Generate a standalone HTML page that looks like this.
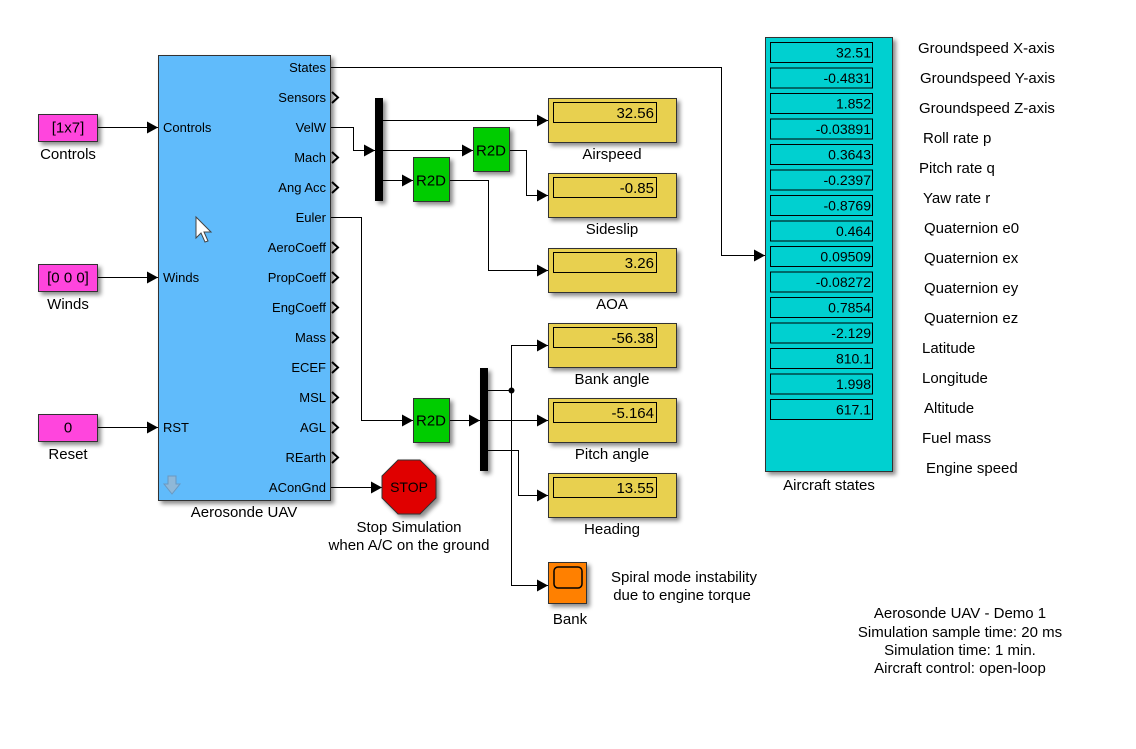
<!DOCTYPE html>
<html><head><meta charset="utf-8"><style>
body{margin:0;background:#fff;}
svg{display:block;font-family:"Liberation Sans",Arial,sans-serif;}
</style></head><body>
<svg width="1136" height="749" viewBox="0 0 1136 749" xmlns="http://www.w3.org/2000/svg">
<defs>
<filter id="sh" x="-10%" y="-10%" width="130%" height="130%"><feDropShadow dx="3" dy="3" stdDeviation="2" flood-color="#000" flood-opacity="0.45"/></filter>
<marker id="ar" markerWidth="11" markerHeight="12" refX="11" refY="6" orient="auto" markerUnits="userSpaceOnUse"><path d="M0,0 L11,6 L0,12 z" fill="#000"/></marker>
</defs>
<g stroke="#000" stroke-width="1" fill="none">
<line x1="98" y1="127.5" x2="158" y2="127.5" marker-end="url(#ar)"/>
<line x1="98" y1="277.5" x2="158" y2="277.5" marker-end="url(#ar)"/>
<line x1="98" y1="427.5" x2="158" y2="427.5" marker-end="url(#ar)"/>
<polyline points="331,67.5 721.5,67.5 721.5,255.5 765,255.5" marker-end="url(#ar)"/>
<polyline points="331,127.5 353.5,127.5 353.5,150.5 375,150.5" marker-end="url(#ar)"/>
<line x1="383" y1="120.5" x2="548" y2="120.5" marker-end="url(#ar)"/>
<line x1="383" y1="150.5" x2="473" y2="150.5" marker-end="url(#ar)"/>
<line x1="383" y1="180.5" x2="413" y2="180.5" marker-end="url(#ar)"/>
<polyline points="509,150.5 526.5,150.5 526.5,195.5 548,195.5" marker-end="url(#ar)"/>
<polyline points="449,180.5 488.5,180.5 488.5,270.5 548,270.5" marker-end="url(#ar)"/>
<polyline points="331,217.5 361.5,217.5 361.5,420.5 413,420.5" marker-end="url(#ar)"/>
<line x1="449" y1="420.5" x2="480" y2="420.5" marker-end="url(#ar)"/>
<polyline points="488,390.5 511.5,390.5"/>
<polyline points="511.5,390.5 511.5,345.5 548,345.5" marker-end="url(#ar)"/>
<polyline points="511.5,390.5 511.5,585.5 548,585.5" marker-end="url(#ar)"/>
<line x1="488" y1="420.5" x2="548" y2="420.5" marker-end="url(#ar)"/>
<polyline points="488,450.5 518.5,450.5 518.5,495.5 548,495.5" marker-end="url(#ar)"/>
<line x1="331" y1="487.5" x2="382" y2="487.5" marker-end="url(#ar)"/>
</g>
<circle cx="511.5" cy="390.5" r="3" fill="#000"/>

<g filter="url(#sh)" stroke="#333" stroke-width="1">
<rect x="38.5" y="114.5" width="59" height="27" fill="#ff44dd"/>
<rect x="38.5" y="264.5" width="59" height="27" fill="#ff44dd"/>
<rect x="38.5" y="414.5" width="59" height="27" fill="#ff44dd"/>
<rect x="158.5" y="55.5" width="172" height="445" fill="#60bbfb"/>
<rect x="375" y="98" width="8" height="103" fill="#000" stroke="none"/>
<rect x="480" y="368" width="8" height="103" fill="#000" stroke="none"/>
<rect x="473.5" y="127.5" width="36" height="44" fill="#00cc00"/>
<rect x="413.5" y="157.5" width="36" height="44" fill="#00cc00"/>
<rect x="413.5" y="398.5" width="36" height="44" fill="#00cc00"/>
<rect x="548.5" y="98.5" width="128" height="44" fill="#e8d050"/>
<rect x="548.5" y="173.5" width="128" height="44" fill="#e8d050"/>
<rect x="548.5" y="248.5" width="128" height="44" fill="#e8d050"/>
<rect x="548.5" y="323.5" width="128" height="44" fill="#e8d050"/>
<rect x="548.5" y="398.5" width="128" height="44" fill="#e8d050"/>
<rect x="548.5" y="473.5" width="128" height="44" fill="#e8d050"/>
<rect x="548.5" y="562.5" width="38" height="41" fill="#ff8000"/>
<polygon points="398,460 420,460 436,476 436,498 420,514 398,514 382,498 382,476" fill="#e00000"/>
<rect x="765.5" y="37.5" width="127" height="434" fill="#00d0d0"/>
</g>
<rect x="554" y="567" width="28" height="21" rx="4" fill="none" stroke="#000" stroke-width="1.5"/>
<g fill="none" stroke="#000">
<rect x="553.5" y="102.5" width="103" height="20"/>
<rect x="553.5" y="177.5" width="103" height="20"/>
<rect x="553.5" y="252.5" width="103" height="20"/>
<rect x="553.5" y="327.5" width="103" height="20"/>
<rect x="553.5" y="402.5" width="103" height="20"/>
<rect x="553.5" y="477.5" width="103" height="20"/>
</g>
<g fill="none" stroke="#000" stroke-width="2">
<polyline points="332,92 338,97.5 332,103"/><polyline points="332,152 338,157.5 332,163"/>
<polyline points="332,182 338,187.5 332,193"/><polyline points="332,242 338,247.5 332,253"/>
<polyline points="332,272 338,277.5 332,283"/><polyline points="332,302 338,307.5 332,313"/>
<polyline points="332,332 338,337.5 332,343"/><polyline points="332,362 338,367.5 332,373"/>
<polyline points="332,392 338,397.5 332,403"/><polyline points="332,422 338,427.5 332,433"/>
<polyline points="332,452 338,457.5 332,463"/>
</g>
<path d="M196,217 L196,238 L201,233 L205,242 L208,241 L204,232 L211,232 Z" fill="#fff" stroke="#444" stroke-width="1"/>
<path d="M168,476 L176,476 L176,484 L180,484 L172,494 L164,484 L168,484 Z" fill="#8fb8d8" stroke="#6a98c0"/>

<g font-size="15" fill="#000">
<text x="68" y="132.5" text-anchor="middle">[1x7]</text>
<text x="68" y="282.5" text-anchor="middle">[0 0 0]</text>
<text x="68" y="432.5" text-anchor="middle">0</text>
<text x="68" y="159" text-anchor="middle">Controls</text>
<text x="68" y="309" text-anchor="middle">Winds</text>
<text x="68" y="459" text-anchor="middle">Reset</text>
<text x="244" y="517" text-anchor="middle">Aerosonde UAV</text>
<text x="491" y="155.5" text-anchor="middle">R2D</text>
<text x="431" y="185.5" text-anchor="middle">R2D</text>
<text x="431" y="425.5" text-anchor="middle">R2D</text>
<text x="409" y="492" text-anchor="middle" font-size="14">STOP</text>
<text x="409" y="532" text-anchor="middle">Stop Simulation</text>
<text x="409" y="550" text-anchor="middle">when A/C on the ground</text>
<g text-anchor="end"><text x="654" y="118">32.56</text><text x="654" y="193">-0.85</text><text x="654" y="268">3.26</text><text x="654" y="343">-56.38</text><text x="654" y="418">-5.164</text><text x="654" y="493">13.55</text></g>
<g text-anchor="middle"><text x="612" y="159">Airspeed</text><text x="612" y="234">Sideslip</text><text x="612" y="309">AOA</text><text x="612" y="384">Bank angle</text><text x="612" y="459">Pitch angle</text><text x="612" y="534">Heading</text><text x="570" y="624">Bank</text></g>
<text x="684" y="582" text-anchor="middle">Spiral mode instability</text>
<text x="682" y="600" text-anchor="middle">due to engine torque</text>
<text x="829" y="490" text-anchor="middle">Aircraft states</text>
<g text-anchor="middle"><text x="960" y="618">Aerosonde UAV - Demo 1</text><text x="960" y="637">Simulation sample time: 20 ms</text><text x="960" y="655">Simulation time: 1 min.</text><text x="960" y="673">Aircraft control: open-loop</text></g>
<g><text x="918" y="53">Groundspeed X-axis</text><text x="920" y="83">Groundspeed Y-axis</text><text x="919" y="113">Groundspeed Z-axis</text><text x="923" y="143">Roll rate p</text><text x="919" y="173">Pitch rate q</text><text x="923" y="203">Yaw rate r</text><text x="924" y="233">Quaternion e0</text><text x="924" y="263">Quaternion ex</text><text x="924" y="293">Quaternion ey</text><text x="924" y="323">Quaternion ez</text><text x="922" y="353">Latitude</text><text x="922" y="383">Longitude</text><text x="924" y="413">Altitude</text><text x="922" y="443">Fuel mass</text><text x="926" y="473">Engine speed</text></g>
</g>
<g font-size="13" fill="#000">
<text x="163" y="132">Controls</text><text x="163" y="282">Winds</text><text x="163" y="432">RST</text>
<g text-anchor="end">
<text x="326" y="72">States</text><text x="326" y="102">Sensors</text><text x="326" y="132">VelW</text><text x="326" y="162">Mach</text><text x="326" y="192">Ang Acc</text><text x="326" y="222">Euler</text><text x="326" y="252">AeroCoeff</text><text x="326" y="282">PropCoeff</text><text x="326" y="312">EngCoeff</text><text x="326" y="342">Mass</text><text x="326" y="372">ECEF</text><text x="326" y="402">MSL</text><text x="326" y="432">AGL</text><text x="326" y="462">REarth</text><text x="326" y="492">AConGnd</text>
</g>
</g>
<g fill="none" stroke="#000">
<rect x="770.5" y="42.5" width="102" height="20"/><rect x="770.5" y="68" width="102" height="20"/><rect x="770.5" y="93.5" width="102" height="20"/><rect x="770.5" y="119" width="102" height="20"/><rect x="770.5" y="144.5" width="102" height="20"/><rect x="770.5" y="170" width="102" height="20"/><rect x="770.5" y="195.5" width="102" height="20"/><rect x="770.5" y="221" width="102" height="20"/><rect x="770.5" y="246.5" width="102" height="20"/><rect x="770.5" y="272" width="102" height="20"/><rect x="770.5" y="297.5" width="102" height="20"/><rect x="770.5" y="323" width="102" height="20"/><rect x="770.5" y="348.5" width="102" height="20"/><rect x="770.5" y="374" width="102" height="20"/><rect x="770.5" y="399.5" width="102" height="20"/>
</g>
<g font-size="14" text-anchor="end" fill="#000">
<text x="871" y="57.5">32.51</text><text x="871" y="83">-0.4831</text><text x="871" y="108.5">1.852</text><text x="871" y="134">-0.03891</text><text x="871" y="159.5">0.3643</text><text x="871" y="185">-0.2397</text><text x="871" y="210.5">-0.8769</text><text x="871" y="236">0.464</text><text x="871" y="261.5">0.09509</text><text x="871" y="287">-0.08272</text><text x="871" y="312.5">0.7854</text><text x="871" y="338">-2.129</text><text x="871" y="363.5">810.1</text><text x="871" y="389">1.998</text><text x="871" y="414.5">617.1</text>
</g>
</svg>
</body></html>
